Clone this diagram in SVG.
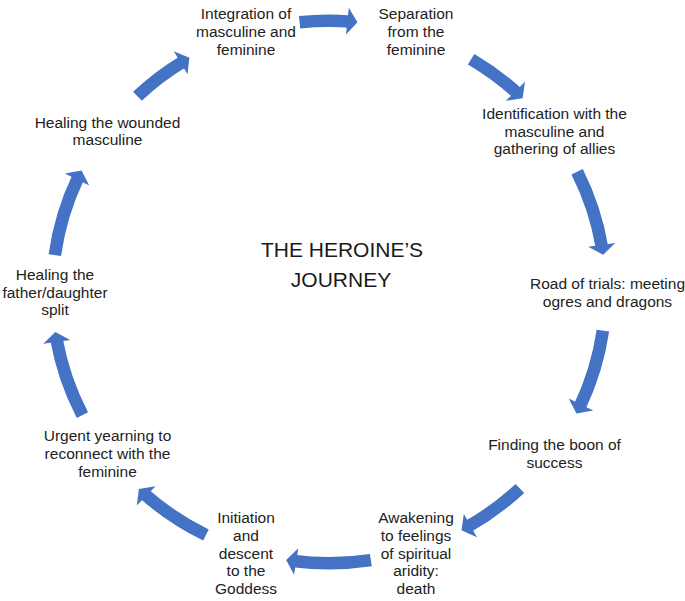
<svg xmlns="http://www.w3.org/2000/svg" width="685" height="601" viewBox="0 0 685 601">
<defs>
<style>
.lbl{font-family:"Liberation Sans",Arial,sans-serif;font-size:15.5px;fill:#222;text-anchor:middle}
.title{font-family:"Liberation Sans",Arial,sans-serif;font-size:21px;fill:#1a1a1a;text-anchor:middle}
.shaft{fill:none;stroke:#4472C4;stroke-width:12.5;stroke-linecap:butt}
.head{fill:#4472C4}
</style>
</defs>
<rect width="685" height="601" fill="#fff"/>
<g id="connectors" transform="translate(329 292) scale(1.01 0.99) translate(-329 -292)">
<g transform="rotate(-84.1 329 292)"><path class="shaft" d="M597.02,235.03 A274,274 0 0 1 602.9,284.83"/><polygon class="head" points="589.5,282 616.5,282 603,292"/></g>
<g transform="rotate(-45.6 329 292)"><path class="shaft" d="M595.43,228.03 A274,274 0 0 1 602.9,284.83"/><polygon class="head" points="589.5,282 616.5,282 603,292"/></g>
<g transform="rotate(-7.9 329 292)"><path class="shaft" d="M588.99,205.51 A274,274 0 0 1 602.9,284.83"/><polygon class="head" points="589.5,282 616.5,282 603,292"/></g>
<g transform="rotate(26.6 329 292)"><path class="shaft" d="M588.99,205.51 A274,274 0 0 1 602.9,284.83"/><polygon class="head" points="589.5,282 616.5,282 603,292"/></g>
<g transform="rotate(61.4 329 292)"><path class="shaft" d="M593.66,221.08 A274,274 0 0 1 602.9,284.83"/><polygon class="head" points="589.5,282 616.5,282 603,292"/></g>
<g transform="rotate(98.9 329 292)"><path class="shaft" d="M590.17,209.15 A274,274 0 0 1 602.9,284.83"/><polygon class="head" points="589.5,282 616.5,282 603,292"/></g>
<g transform="rotate(133.4 329 292)"><path class="shaft" d="M591.03,211.89 A274,274 0 0 1 602.9,284.83"/><polygon class="head" points="589.5,282 616.5,282 603,292"/></g>
<g transform="rotate(171.5 329 292)"><path class="shaft" d="M588.84,205.06 A274,274 0 0 1 602.9,284.83"/><polygon class="head" points="589.5,282 616.5,282 603,292"/></g>
<g transform="rotate(206.6 329 292)"><path class="shaft" d="M588.38,203.70 A274,274 0 0 1 602.9,284.83"/><polygon class="head" points="589.5,282 616.5,282 603,292"/></g>
<g transform="rotate(239.7 329 292)"><path class="shaft" d="M595.43,228.03 A274,274 0 0 1 602.9,284.83"/><polygon class="head" points="589.5,282 616.5,282 603,292"/></g>
</g>
<g id="title"><text class="title" x="342" y="257">THE HEROINE’S</text><text class="title" x="341" y="287">JOURNEY</text></g>
<g id="integration"><text class="lbl" x="246" y="19.2">Integration of</text><text class="lbl" x="246" y="36.9">masculine and</text><text class="lbl" x="246" y="54.6">feminine</text></g>
<g id="separation"><text class="lbl" x="416" y="19.2">Separation</text><text class="lbl" x="416" y="36.9">from the</text><text class="lbl" x="416" y="54.6">feminine</text></g>
<g id="identification"><text class="lbl" x="554.5" y="118.8">Identification with the</text><text class="lbl" x="554.5" y="136.5">masculine and</text><text class="lbl" x="554.5" y="154.2">gathering of allies</text></g>
<g id="road"><text class="lbl" x="607.5" y="289.3">Road of trials: meeting</text><text class="lbl" x="607.5" y="307">ogres and dragons</text></g>
<g id="finding"><text class="lbl" x="554.5" y="450.2">Finding the boon of</text><text class="lbl" x="554.5" y="467.9">success</text></g>
<g id="awakening"><text class="lbl" x="416" y="523.3">Awakening</text><text class="lbl" x="416" y="541">to feelings</text><text class="lbl" x="416" y="558.7">of spiritual</text><text class="lbl" x="416" y="576.4">aridity:</text><text class="lbl" x="416" y="594.1">death</text></g>
<g id="initiation"><text class="lbl" x="246" y="523.3">Initiation</text><text class="lbl" x="246" y="541">and</text><text class="lbl" x="246" y="558.7">descent</text><text class="lbl" x="246" y="576.4">to the</text><text class="lbl" x="246" y="594.1">Goddess</text></g>
<g id="urgent"><text class="lbl" x="107.5" y="441.4">Urgent yearning to</text><text class="lbl" x="107.5" y="459.1">reconnect with the</text><text class="lbl" x="107.5" y="476.8">feminine</text></g>
<g id="healing-father"><text class="lbl" x="55" y="280">Healing the</text><text class="lbl" x="55" y="297.7">father/daughter</text><text class="lbl" x="55" y="315.4">split</text></g>
<g id="healing-wounded"><text class="lbl" x="107.5" y="127.6">Healing the wounded</text><text class="lbl" x="107.5" y="145.3">masculine</text></g>
</svg>
